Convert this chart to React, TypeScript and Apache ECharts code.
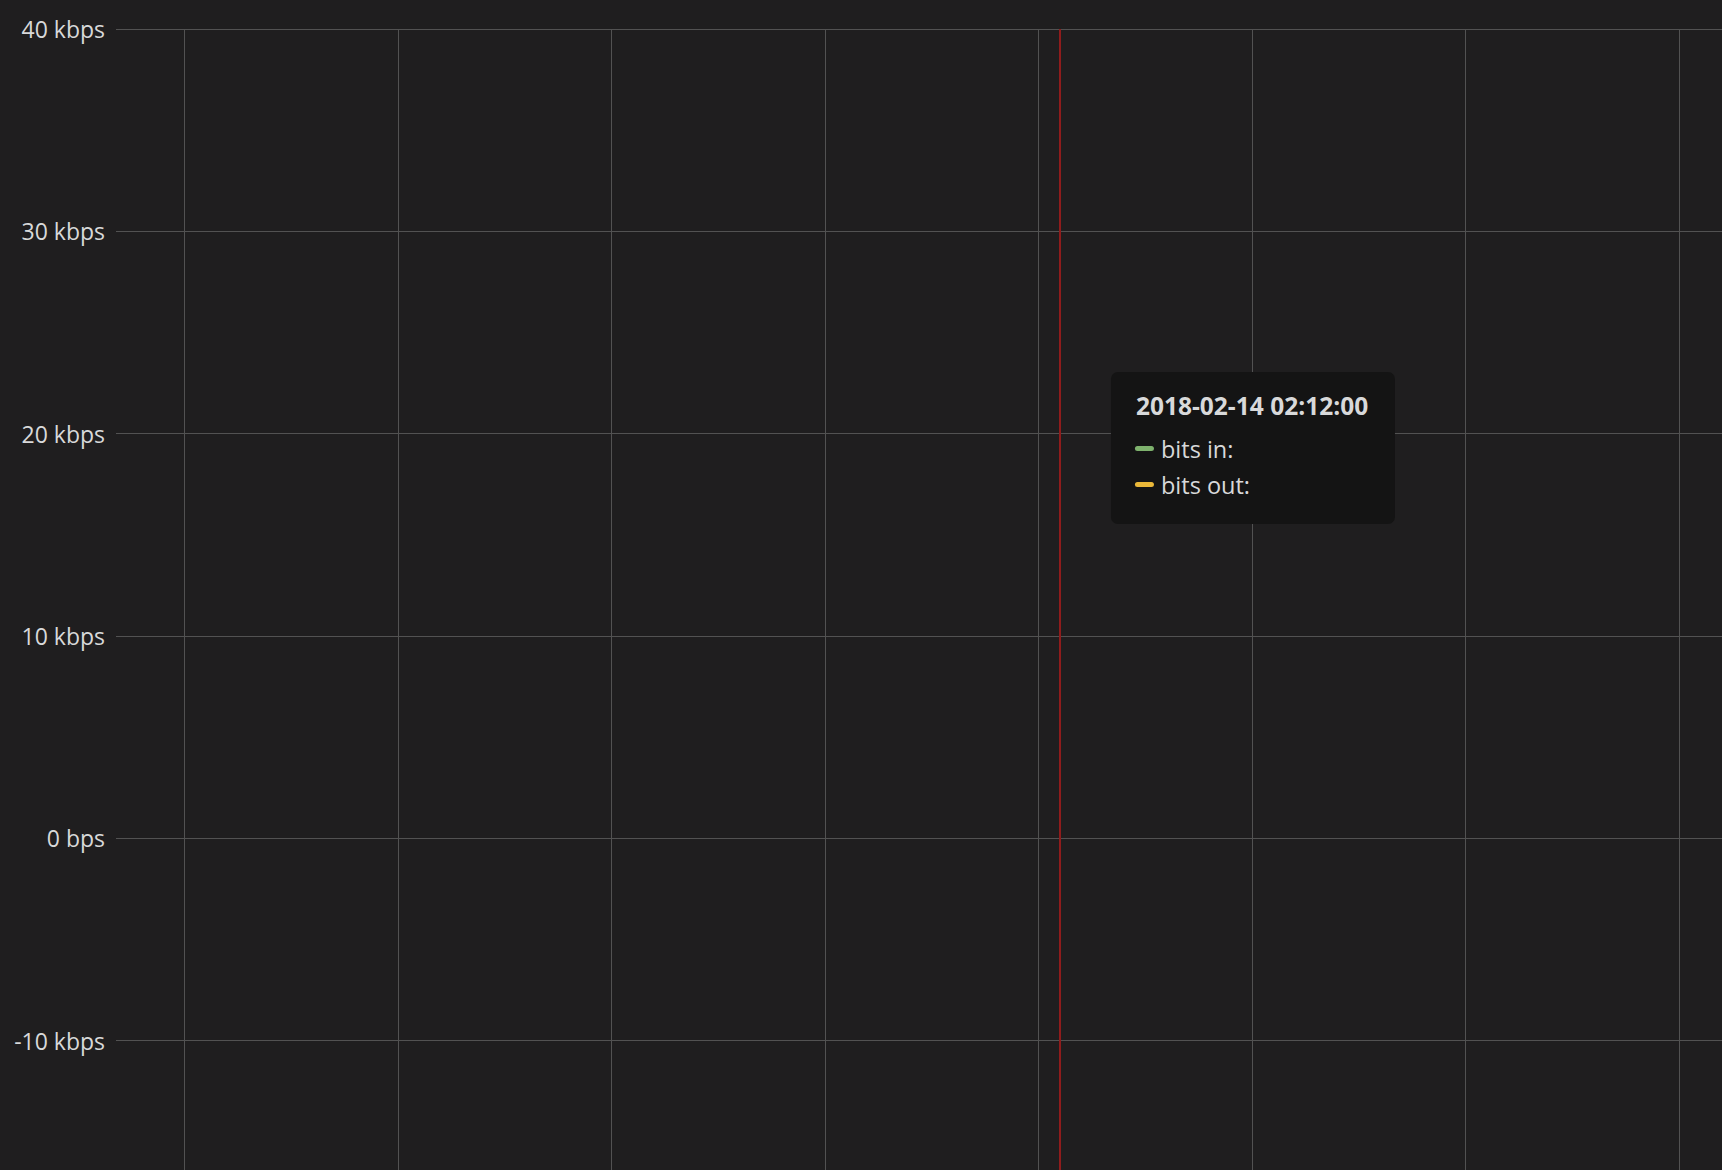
import { useRef, useEffect } from 'react'
import * as echarts from 'echarts'

// y axis ticks in bps, x axis in minutes since 00:00 on 2018-02-14
const yTicks = [-20000, -10000, 0, 10000, 20000, 30000, 40000]
const xTicks = [50, 70, 90, 110, 130, 150, 170, 190]
const xRange = [43.56, 194.03]
const hoverMinute = 132
const hoverLabel = '2018-02-14 02:12:00'

const seriesNames = ['bits in', 'bits out']
const seriesColors = ['#7eb26d', '#eab839']
const bitsIn: [number, number][] = []
const bitsOut: [number, number][] = []

const TEXT = '#d8d9da'
const GRID = '#525252'
const FONT = '"Open Sans", "Noto Sans", sans-serif'

const fmtBps = (v: number) => (v === 0 ? '0 bps' : `${v / 1000} kbps`)

export default function App() {
  const chartRef = useRef<HTMLDivElement>(null)

  useEffect(() => {
    if (!chartRef.current) return
    const chart = echarts.init(chartRef.current, undefined, { renderer: 'svg' })

    chart.setOption({
      animation: false,
      backgroundColor: '#1f1e1f',
      textStyle: { fontFamily: FONT },
      grid: { left: 116, right: 0, top: 29, bottom: 17 },
      xAxis: {
        type: 'value',
        min: xRange[0],
        max: xRange[1],
        axisLine: { show: false },
        axisTick: { show: false, customValues: xTicks },
        axisLabel: { show: false },
        splitLine: { show: true, lineStyle: { color: GRID, width: 1 } },
      },
      yAxis: {
        type: 'value',
        min: yTicks[0],
        max: yTicks[yTicks.length - 1],
        interval: 10000,
        axisLine: { show: false },
        axisTick: { show: false },
        axisLabel: {
          color: TEXT,
          fontSize: 23,
          fontFamily: FONT,
          margin: 11,
          showMinLabel: false,
          formatter: fmtBps,
        },
        splitLine: { show: true, lineStyle: { color: GRID, width: 1 } },
      },
      series: [
        {
          name: seriesNames[0],
          type: 'line',
          data: bitsIn,
          showSymbol: false,
          lineStyle: { color: seriesColors[0] },
          markLine: {
            silent: true,
            symbol: 'none',
            label: { show: false },
            lineStyle: { color: '#8f1c1c', width: 2, type: 'solid' },
            data: [{ xAxis: hoverMinute }],
          },
        },
        {
          name: seriesNames[1],
          type: 'line',
          data: bitsOut,
          showSymbol: false,
          lineStyle: { color: seriesColors[1] },
        },
      ],
    })

    // hover tooltip box, anchored to the hover line
    const px = chart.convertToPixel({ xAxisIndex: 0 }, hoverMinute) as number
    chart.setOption({
      graphic: [
        {
          type: 'group',
          x: px + 51,
          y: 372,
          z: 100,
          children: [
            {
              type: 'rect',
              shape: { x: 0, y: 0, width: 284, height: 152, r: 7 },
              style: { fill: '#141414' },
            },
            {
              type: 'text',
              style: {
                x: 25,
                y: 33,
                text: hoverLabel,
                fill: TEXT,
                font: `bold 24.5px ${FONT}`,
                verticalAlign: 'middle',
              },
            },
            ...seriesNames.flatMap((name, i) => [
              {
                type: 'rect',
                shape: { x: 24, y: 74 + i * 36, width: 19, height: 5, r: 2.5 },
                style: { fill: seriesColors[i] },
              },
              {
                type: 'text',
                style: {
                  x: 50,
                  y: 77 + i * 36,
                  text: `${name}:`,
                  fill: TEXT,
                  font: `23.5px ${FONT}`,
                  verticalAlign: 'middle',
                },
              },
            ]),
          ],
        },
      ],
    })

    return () => chart.dispose()
  }, [])

  return (
    <div
      style={{
        position: 'fixed',
        left: 0,
        top: 0,
        width: 1722,
        height: 1170,
        overflow: 'hidden',
      }}
    >
      <div ref={chartRef} style={{ width: 1722, height: 1260 }} />
    </div>
  )
}
